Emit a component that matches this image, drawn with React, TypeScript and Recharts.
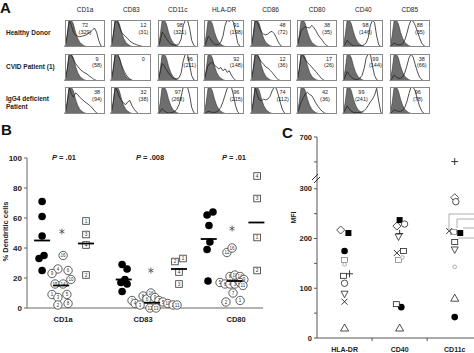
import React from 'react'
import { ComposedChart, Area, Line, XAxis, YAxis, ScatterChart, Scatter } from 'recharts'

// ---------- panel A : flow histograms ----------
const markers = ['CD1a', 'CD83', 'CD11c', 'HLA-DR', 'CD86', 'CD80', 'CD40', 'CD85']
const subjects = ['Healthy Donor', 'CVID Patient (1)', 'IgG4 deficient Patient']

const isotype = [0, 40, 100, 100, 85, 55, 32, 18, 10, 5, 2, 1, 0, 0, 0, 0, 0, 0, 0, 0]

const healthyCurves = [
  [0, 40, 100, 80, 55, 45, 40, 38, 40, 42, 45, 50, 55, 62, 70, 55, 25, 5, 0, 0],
  [0, 40, 100, 95, 75, 55, 45, 38, 30, 22, 16, 12, 9, 6, 4, 2, 1, 0, 0, 0],
  [0, 20, 55, 45, 32, 20, 12, 8, 6, 7, 12, 30, 80, 100, 100, 70, 25, 6, 1, 0],
  [0, 15, 40, 30, 18, 10, 8, 10, 18, 40, 80, 100, 95, 100, 92, 55, 15, 3, 0, 0],
  [0, 40, 100, 90, 70, 55, 48, 45, 48, 55, 58, 50, 35, 18, 6, 1, 0, 0, 0, 0],
  [0, 30, 60, 70, 75, 72, 70, 80, 72, 60, 45, 35, 25, 14, 6, 1, 0, 0, 0, 0],
  [0, 10, 25, 15, 8, 5, 4, 4, 4, 5, 8, 15, 35, 80, 100, 90, 40, 8, 1, 0],
  [0, 8, 15, 10, 8, 8, 12, 25, 50, 80, 100, 95, 80, 58, 35, 15, 5, 1, 0, 0],
]
const cvidCurves = [
  [0, 40, 100, 95, 80, 65, 55, 45, 38, 32, 28, 22, 16, 10, 5, 2, 0, 0, 0, 0],
  [0, 40, 100, 100, 85, 60, 40, 25, 14, 7, 3, 1, 0, 0, 0, 0, 0, 0, 0, 0],
  [0, 30, 65, 55, 42, 30, 20, 12, 8, 8, 12, 30, 75, 100, 100, 60, 20, 4, 0, 0],
  [0, 30, 60, 65, 70, 58, 52, 45, 50, 38, 45, 32, 38, 22, 10, 3, 0, 0, 0, 0],
  [0, 40, 100, 95, 82, 70, 62, 52, 48, 40, 32, 22, 12, 5, 1, 0, 0, 0, 0, 0],
  [0, 40, 100, 92, 80, 68, 60, 52, 42, 35, 25, 15, 7, 2, 0, 0, 0, 0, 0, 0],
  [0, 15, 35, 22, 14, 8, 6, 6, 10, 20, 45, 85, 100, 100, 55, 20, 5, 0, 0, 0],
  [0, 10, 22, 15, 10, 10, 15, 30, 55, 85, 100, 88, 60, 35, 15, 5, 1, 0, 0, 0],
]
const igg4Curves = [
  [0, 40, 100, 75, 62, 78, 72, 62, 55, 48, 42, 36, 30, 22, 12, 4, 0, 0, 0, 0],
  [0, 40, 100, 85, 62, 50, 40, 35, 45, 50, 30, 18, 8, 2, 0, 0, 0, 0, 0, 0],
  [0, 10, 20, 12, 6, 4, 4, 6, 10, 18, 35, 65, 100, 100, 100, 70, 25, 5, 0, 0],
  [0, 5, 10, 8, 6, 6, 8, 14, 25, 45, 70, 95, 100, 100, 70, 30, 8, 1, 0, 0],
  [0, 40, 100, 70, 52, 50, 55, 52, 55, 65, 85, 100, 95, 70, 40, 15, 3, 0, 0, 0],
  [0, 20, 45, 60, 75, 80, 72, 68, 55, 40, 28, 18, 10, 4, 1, 0, 0, 0, 0, 0],
  [0, 15, 30, 18, 10, 6, 5, 5, 6, 8, 12, 20, 32, 45, 55, 70, 95, 45, 5, 0],
  [0, 8, 16, 12, 10, 10, 14, 24, 45, 75, 100, 100, 85, 55, 30, 12, 3, 0, 0, 0],
]

const healthyPct = ['72', '12', '98', '91', '48', '38', '98', '88']
const healthyMfi = ['(329)', '(31)', '(321)', '(198)', '(72)', '(35)', '(146)', '(35)']
const cvidPct = ['9', '0', '96', '92', '12', '17', '99', '38']
const cvidMfi = ['(58)', '', '(211)', '(148)', '(36)', '(26)', '(144)', '(66)']
const igg4Pct = ['38', '32', '97', '96', '74', '42', '99', '96']
const igg4Mfi = ['(94)', '(38)', '(268)', '(215)', '(112)', '(36)', '(241)', '(78)']

// where the % / MFI text sits inside each box (fraction of width)
const textPos = [
  [0.5, 0.8, 0.55, 0.8, 0.8, 0.75, 0.55, 0.75],
  [0.8, 0.8, 0.8, 0.8, 0.8, 0.8, 0.8, 0.8],
  [0.8, 0.8, 0.5, 0.8, 0.8, 0.7, 0.45, 0.7],
]

// ---------- panel B : % dendritic cells ----------
const bGroups = ['CD1a', 'CD83', 'CD80']
const bLabelX = [1.53, 4.92, 8.86]
const bPValues = ['.01', '.008', '.01']

const healthyVals = [[71, 61, 48, 35, 33, 25], [29, 26, 19, 17, 16, 11], [64, 62, 55, 44, 39, 18]]
const healthyX = [
  [0.64, 0.64, 0.64, 0.72, 0.51, 0.64],
  [4.03, 4.24, 4.15, 3.98, 4.24, 4.03],
  [7.88, 7.63, 7.71, 7.75, 7.63, 7.67],
]
const cvidVals = [
  [35, 26, 25, 23, 19, 16, 16, 9, 7, 9, 2, 3],
  [5, 3, 2, 8, 6, 10, 7, 5, 4, 3, 2, 2, 0, 0],
  [37, 40, 17, 16, 21, 22, 21, 19, 16, 16, 17, 15, 10, 5, 4],
]
const cvidX = [
  [1.53, 1.31, 1.74, 1.06, 1.86, 1.19, 1.53, 1.06, 1.31, 1.69, 1.31, 1.74],
  [4.45, 4.58, 4.79, 4.92, 5.08, 5.25, 5.42, 5.59, 5.76, 5.97, 6.19, 6.36, 5.21, 5.47],
  [8.47, 8.69, 8.18, 8.39, 8.6, 8.81, 9.03, 9.19, 8.6, 8.81, 9.03, 9.15, 8.73, 9.03, 8.43],
]
const cvidIds = [
  [16, 4, 6, 9, 10, 15, 14, 1, 3, 5, 2, 8],
  [1, 4, 3, 8, 6, 16, 9, 7, 5, 10, 2, 11, 12, 13],
  [12, 16, 5, 6, 8, 10, 14, 9, 4, 3, 15, 11, 7, 1, 2],
]
const igg4Vals = [[58, 49, 42, 22], [31, 33, 24, 16], [88, 73, 47, 25]]
const igg4X = [[2.5, 2.5, 2.5, 2.5], [6.27, 6.61, 6.44, 6.44], [9.75, 9.75, 9.75, 9.75]]
const igg4Ids = [[1, 3, 4, 2], [2, 1, 4, 3], [4, 3, 1, 2]]
const meanVals = [45, 15, 43, 19, 3.5, 26, 46, 18, 57]
const meanX = [0.64, 1.45, 2.5, 4.1, 5.3, 6.44, 7.7, 8.8, 9.72]
const starVals = [51, 25, 53]
const starX = [1.48, 5.25, 8.69]

// ---------- panel C : MFI ----------
const cMarkers = ['HLA-DR', 'CD40', 'CD11c']
type Sym = 'diamond' | 'sqFilled' | 'circFilled' | 'circOpen' | 'sqGrey' | 'sqOpen' | 'plus' | 'cross' | 'triDown' | 'triUp' | 'greySmall'
const cPatients: Sym[] = ['diamond', 'sqFilled', 'circFilled', 'circOpen', 'sqGrey', 'sqOpen', 'plus', 'cross', 'triDown', 'triUp', 'greySmall', 'sqOpen']
const cMfi: (number | null)[][] = [
  [217, 225, 282],
  [211, 237, 211],
  [175, 62, 42],
  [110, 229, 274],
  [157, 157, 213],
  [125, 175, 193],
  [129, 210, 510],
  [73, 171, 215],
  [88, 203, 177],
  [20, 20, 80],
  [148, 162, 143],
  [null, 68, null],
]
const cJitter = [
  [-0.07, -0.05, 0],
  [0.07, 0, 0.1],
  [0, 0.03, 0],
  [0, 0.09, 0.02],
  [0, -0.02, -0.02],
  [-0.02, 0.07, 0],
  [0.09, 0, 0],
  [0, -0.05, -0.1],
  [0, -0.02, 0],
  [0, 0, 0],
  [0, 0.05, 0],
  [0, -0.06, 0],
]

// broken axis: values above 300 are compressed
const brk = (v: number) => (v <= 300 ? v : 300 + (v - 300) * 0.26)

const FONT = '"Liberation Sans", Arial, sans-serif'

function Histo({ curve, left, top }: { curve: number[]; left: number; top: number }) {
  const data = curve.map((v, i) => ({ i, ctrl: isotype[i], v }))
  return (
    <div style={{ position: 'absolute', left: left - 3, top, width: 44, height: 31 }}>
      <ComposedChart width={44} height={31} data={data} margin={{ top: 0, right: 1, bottom: 0, left: 0 }}>
        <XAxis dataKey="i" type="number" domain={[0, 19]} ticks={[0, 4.75, 9.5, 14.25, 19]} tick={false} tickSize={3} height={4} axisLine={false} stroke="#555" />
        <YAxis type="number" domain={[0, 100]} allowDataOverflow ticks={[33, 66]} tick={false} tickSize={2} width={3} axisLine={false} stroke="#555" />
        <Area dataKey="ctrl" type="linear" fill="#6e6e6e" fillOpacity={1} stroke="#333" strokeWidth={0.6} isAnimationActive={false} dot={false} />
        <Line dataKey="v" type="linear" stroke="#222" strokeWidth={0.8} dot={false} isAnimationActive={false} />
      </ComposedChart>
      <div style={{ position: 'absolute', left: 3, top: 0, width: 40, height: 27, border: '1px solid #888', boxSizing: 'border-box' }} />
    </div>
  )
}

const FilledDot = (p: any) => <circle cx={p.cx} cy={p.cy} r={3.8} fill="#000" />
const NumCircle = (p: any) => (
  <g>
    <circle cx={p.cx} cy={p.cy} r={4.2} fill="#fff" stroke="#333" strokeWidth={0.8} />
    <text x={p.cx} y={p.cy + 1.6} fontSize={4.5} textAnchor="middle" fill="#333" fontFamily={FONT}>{p.payload.id}</text>
  </g>
)
const NumSquare = (p: any) => (
  <g>
    <rect x={p.cx - 3.3} y={p.cy - 3.3} width={6.6} height={6.6} fill="#fff" stroke="#333" strokeWidth={0.8} />
    <text x={p.cx} y={p.cy + 1.7} fontSize={4.8} textAnchor="middle" fill="#333" fontFamily={FONT}>{p.payload.id}</text>
  </g>
)
const MeanBar = (p: any) => <line x1={p.cx - 8} x2={p.cx + 8} y1={p.cy} y2={p.cy} stroke="#000" strokeWidth={1.8} />
const Star = (p: any) => (
  <path d={`M${p.cx},${p.cy - 3}V${p.cy + 3}M${p.cx - 2.6},${p.cy - 1.5}L${p.cx + 2.6},${p.cy + 1.5}M${p.cx + 2.6},${p.cy - 1.5}L${p.cx - 2.6},${p.cy + 1.5}`} stroke="#444" strokeWidth={0.8} />
)

const CSymbol = (p: any) => {
  const { cx, cy } = p
  const s: Sym = p.payload.sym
  switch (s) {
    case 'diamond':
      return <polygon points={`${cx},${cy - 4} ${cx + 4},${cy} ${cx},${cy + 4} ${cx - 4},${cy}`} fill="#fff" stroke="#222" strokeWidth={0.8} />
    case 'sqFilled':
      return <rect x={cx - 3} y={cy - 3} width={6} height={6} fill="#000" />
    case 'circFilled':
      return <circle cx={cx} cy={cy} r={3.3} fill="#000" />
    case 'circOpen':
      return <circle cx={cx} cy={cy} r={3.2} fill="#fff" stroke="#222" strokeWidth={0.8} />
    case 'sqGrey':
      return <rect x={cx - 3} y={cy - 2.5} width={6} height={5} fill="#fff" stroke="#888" strokeWidth={0.8} />
    case 'sqOpen':
      return <rect x={cx - 3} y={cy - 2.5} width={6} height={5} fill="#fff" stroke="#222" strokeWidth={0.8} />
    case 'plus':
      return <path d={`M${cx - 3.5},${cy}H${cx + 3.5}M${cx},${cy - 3.5}V${cy + 3.5}`} stroke="#222" strokeWidth={0.9} />
    case 'cross':
      return <path d={`M${cx - 3},${cy - 3}L${cx + 3},${cy + 3}M${cx + 3},${cy - 3}L${cx - 3},${cy + 3}`} stroke="#222" strokeWidth={0.9} />
    case 'triDown':
      return <polygon points={`${cx - 3.5},${cy - 3} ${cx + 3.5},${cy - 3} ${cx},${cy + 3.5}`} fill="#fff" stroke="#222" strokeWidth={0.8} />
    case 'triUp':
      return <polygon points={`${cx - 4},${cy + 3} ${cx + 4},${cy + 3} ${cx},${cy - 4}`} fill="#fff" stroke="#222" strokeWidth={0.8} />
    default:
      return <circle cx={cx} cy={cy} r={1.8} fill="#fff" stroke="#999" strokeWidth={0.8} />
  }
}

const CTick = (p: any) => {
  const v = p.payload.value
  if (Number.isInteger(v)) return <line x1={p.x} x2={p.x} y1={p.y} y2={p.y + 3} stroke="#555" />
  return (
    <text x={p.x} y={p.y + 14} textAnchor="middle" fontSize={7} fontWeight={700} fill="#222" fontFamily={FONT}>
      {cMarkers[Math.floor(v)]}
    </text>
  )
}

const BTick = (p: any) => {
  const idx = bLabelX.indexOf(p.payload.value)
  return (
    <text x={p.x} y={p.y + 14} textAnchor="middle" fontSize={7.5} fontWeight={700} fill="#222" fontFamily={FONT}>
      {bGroups[idx]}
    </text>
  )
}

export default function App() {
  const boxLeft = (c: number) => 65 + c * 46.4
  const rowTop = [20, 53.5, 87]
  const curves = [healthyCurves, cvidCurves, igg4Curves]
  const pcts = [healthyPct, cvidPct, igg4Pct]
  const mfis = [healthyMfi, cvidMfi, igg4Mfi]

  const healthyData = healthyVals.flatMap((g, gi) => g.map((y, k) => ({ x: healthyX[gi][k], y })))
  const cvidData = cvidVals.flatMap((g, gi) => g.map((y, k) => ({ x: cvidX[gi][k], y, id: cvidIds[gi][k] })))
  const igg4Data = igg4Vals.flatMap((g, gi) => g.map((y, k) => ({ x: igg4X[gi][k], y, id: igg4Ids[gi][k] })))
  const meanData = meanVals.map((y, i) => ({ x: meanX[i], y }))
  const starData = starVals.map((y, i) => ({ x: starX[i], y }))

  const cData = cPatients.flatMap((sym, pi) =>
    cMfi[pi]
      .map((v, mi) => (v == null ? null : { x: mi + 0.5 + cJitter[pi][mi], y: brk(v), sym }))
      .filter(Boolean)
  )

  const txt: React.CSSProperties = { position: 'absolute', fontFamily: FONT, color: '#222', whiteSpace: 'nowrap' }

  return (
    <div style={{ position: 'absolute', left: 0, top: 0, width: 474, height: 353, background: '#fff', overflow: 'hidden', fontFamily: FONT }}>
      {/* panel letters */}
      <div style={{ ...txt, left: 0, top: -1, fontSize: 15, fontWeight: 700, color: '#111' }}>A</div>
      <div style={{ ...txt, left: 1, top: 121, fontSize: 15, fontWeight: 700, color: '#111' }}>B</div>
      <div style={{ ...txt, left: 282, top: 124, fontSize: 15, fontWeight: 700, color: '#111' }}>C</div>

      {/* panel A */}
      {markers.map((m, c) => (
        <div key={m} style={{ ...txt, left: boxLeft(c), top: 6, width: 40, textAlign: 'center', fontSize: 6.5 }}>{m}</div>
      ))}
      <div style={{ ...txt, left: 6, top: 29, fontSize: 6.5, fontWeight: 700 }}>{subjects[0]}</div>
      <div style={{ ...txt, left: 6, top: 63, fontSize: 6.5, fontWeight: 700 }}>{subjects[1]}</div>
      <div style={{ ...txt, left: 6, top: 95, fontSize: 6.5, fontWeight: 700, whiteSpace: 'normal', width: 52, lineHeight: '7.5px' }}>{subjects[2]}</div>
      {curves.map((row, r) =>
        row.map((curve, c) => (
          <React.Fragment key={`${r}-${c}`}>
            <Histo curve={curve} left={boxLeft(c)} top={rowTop[r]} />
            <div style={{ ...txt, left: boxLeft(c) + textPos[r][c] * 40 - 10, top: rowTop[r] + 2, width: 20, textAlign: 'center', fontSize: 5.5, lineHeight: '6.5px' }}>
              {pcts[r][c]}
              <br />
              {mfis[r][c]}
            </div>
          </React.Fragment>
        ))
      )}

      {/* panel B */}
      <div style={{ position: 'absolute', left: 0, top: 148 }}>
        <ScatterChart width={270} height={182} margin={{ top: 10, right: 7, left: 0, bottom: 0 }}>
          <XAxis dataKey="x" type="number" domain={[0, 10]} ticks={bLabelX} tick={<BTick />} tickLine={false} tickSize={0} tickMargin={0} height={22} stroke="#666" />
          <YAxis dataKey="y" type="number" domain={[0, 100]} ticks={[0, 20, 40, 60, 80, 100]} width={27} tickSize={3} stroke="#666"
            tick={{ fontSize: 8, fontWeight: 700, fill: '#222', fontFamily: FONT }} />
          <Scatter data={healthyData} shape={FilledDot} isAnimationActive={false} />
          <Scatter data={cvidData} shape={NumCircle} isAnimationActive={false} />
          <Scatter data={igg4Data} shape={NumSquare} isAnimationActive={false} />
          <Scatter data={meanData} shape={MeanBar} isAnimationActive={false} />
          <Scatter data={starData} shape={Star} isAnimationActive={false} />
        </ScatterChart>
      </div>
      {bPValues.map((p, i) => (
        <div key={i} style={{ ...txt, left: [52, 136, 222][i], top: 153, fontSize: 7.5, fontWeight: 700 }}>
          <i>P</i> = {p}
        </div>
      ))}
      <div style={{ ...txt, left: -26, top: 227, width: 62, textAlign: 'center', fontSize: 7.5, fontWeight: 700, transform: 'rotate(-90deg)' }}>
        % Dendritic cells
      </div>

      {/* panel C */}
      <div style={{ position: 'absolute', left: 290, top: 127 }}>
        <ScatterChart width={184} height={231} margin={{ top: 10, right: 0, left: 0, bottom: 0 }}>
          <XAxis dataKey="x" type="number" domain={[0, 2.85]} ticks={[0.5, 1, 1.5, 2, 2.5]} tick={<CTick />} tickLine={false} tickSize={0} tickMargin={0} height={20} stroke="#555" />
          <YAxis dataKey="y" type="number" domain={[0, 404]} ticks={[0, 50, 100, 150, 200, 250, 300, 354, 404]} width={27} tickSize={3} stroke="#555"
            tickFormatter={(v: number) => (v === 404 ? '700' : v <= 300 && v % 100 === 0 ? String(v) : '')}
            tick={{ fontSize: 7.5, fontWeight: 700, fill: '#222', fontFamily: FONT }} />
          <Scatter data={cData} shape={CSymbol} isAnimationActive={false} />
        </ScatterChart>
      </div>
      <div style={{ ...txt, left: 287, top: 214, fontSize: 7, fontWeight: 700, transform: 'rotate(-90deg)' }}>MFI</div>
      <svg style={{ position: 'absolute', left: 0, top: 0 }} width={474} height={353}>
        <path d="M312,180 L318,174 M314,183 L320,177" stroke="#222" strokeWidth={0.9} />
        <path d="M449,231 V214 H474 M457,228 V219 H474 M463,228 H474 M458,238 H474" stroke="#999" strokeWidth={0.8} fill="none" />
      </svg>
    </div>
  )
}
